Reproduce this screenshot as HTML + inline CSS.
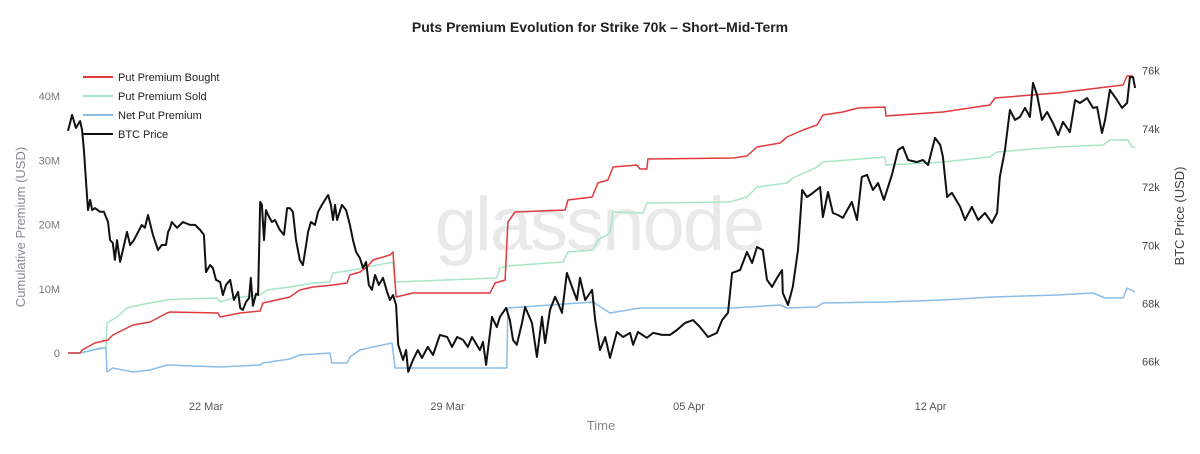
<!DOCTYPE html>
<html><head><meta charset="utf-8">
<style>
html,body{margin:0;padding:0;background:#fff;}
body{width:1200px;height:449px;overflow:hidden;font-family:"Liberation Sans",Arial,sans-serif;}
svg text{font-family:"Liberation Sans",Arial,sans-serif;}
</style></head>
<body>
<svg id="chart" width="1200" height="449" viewBox="0 0 1200 449" xmlns="http://www.w3.org/2000/svg">
  <text x="600" y="32" text-anchor="middle" font-size="14" font-weight="bold" fill="#222">Puts Premium Evolution for Strike 70k – Short–Mid-Term</text>
  <text x="599" y="250" text-anchor="middle" font-size="76" fill="#e9e9e9" letter-spacing="-2">glassnode</text>
  <g id="axes"></g>
  <g id="series"></g>
  <text transform="translate(25,227) rotate(-90)" text-anchor="middle" font-size="13" fill="#8a8a96">Cumulative Premium (USD)</text>
  <text transform="translate(1184,216) rotate(-90)" text-anchor="middle" font-size="13" fill="#444">BTC Price (USD)</text>
  <text x="601" y="430" text-anchor="middle" font-size="13" fill="#888">Time</text>
  <g font-size="11" fill="#222">
    <g><line x1="83" y1="77" x2="113" y2="77" stroke="#e0393e" stroke-width="2"/><text x="118" y="81">Put Premium Bought</text></g>
    <g><line x1="83" y1="96" x2="113" y2="96" stroke="#a6e6c6" stroke-width="2"/><text x="118" y="100">Put Premium Sold</text></g>
    <g><line x1="83" y1="115" x2="113" y2="115" stroke="#8bbde8" stroke-width="2"/><text x="118" y="119">Net Put Premium</text></g>
    <g><line x1="83" y1="134" x2="113" y2="134" stroke="#111" stroke-width="2"/><text x="118" y="138">BTC Price</text></g>
  </g>
</svg>
<script>
// days since 18 Mar
const leftTicks=[0,10,20,30,40];
const leftTickLabels=["0","10M","20M","30M","40M"];
const rightTicks=[66,68,70,72,74,76];
const rightTickLabels=["66k","68k","70k","72k","74k","76k"];
const xTicks=[4,11,18,25];
const xTickLabels=["22 Mar","29 Mar","05 Apr","12 Apr"];

const boughtDays=[0,.35,.41,.78,1.16,1.30,1.88,2.38,2.87,2.96,4.35,4.41,4.99,5.57,5.65,6.43,6.72,7.10,7.68,8.09,8.17,8.46,8.67,8.84,9.33,9.42,9.51,10.00,12.23,12.38,12.67,12.75,12.96,14.41,14.49,15.19,15.36,15.65,15.80,16.49,16.58,16.78,16.81,19.28,19.68,19.97,20.64,20.84,21.30,21.71,21.88,22.46,22.90,23.68,23.71,25.36,26.72,26.87,28.67,30.58,30.70,30.87];
const boughtVals=[0,0,.47,1.56,2.02,2.80,4.36,4.83,6.23,6.39,6.23,5.61,6.23,6.54,7.79,8.72,9.81,10.28,10.59,10.90,12.15,12.62,13.40,14.49,15.26,15.73,8.72,9.35,9.35,10.90,11.37,20.40,21.96,22.27,23.83,24.30,26.48,26.95,28.97,29.28,28.66,28.66,30.22,30.37,30.69,32.09,32.71,33.64,34.74,35.51,37.07,37.54,38.16,38.32,36.92,37.54,38.63,39.72,40.50,41.74,43.15,43.15];

const soldDays=[0,.35,.93,1.10,1.13,1.42,1.71,2.09,2.38,2.87,3.33,4.32,4.41,4.78,5.57,5.77,6.43,7.10,7.59,7.68,8.26,8.67,9.42,9.48,12.43,12.52,12.72,14.35,14.49,15.22,15.36,15.71,15.80,16.67,16.78,19.19,19.68,19.97,20.84,21.01,21.71,21.88,23.68,23.71,25.36,26.72,26.93,28.67,30.00,30.20,30.72,30.84,30.93];
const soldVals=[0,0,.78,.78,4.67,5.61,7.01,7.48,7.79,8.26,8.41,8.57,7.94,8.57,9.03,9.81,10.28,10.90,11.06,12.46,12.93,13.40,14.17,11.06,11.68,13.24,13.55,14.17,15.73,16.04,17.60,18.69,21.96,21.81,23.36,23.52,24.30,25.86,26.48,27.26,28.97,29.75,30.53,29.28,29.75,30.53,31.31,32.09,32.40,33.18,33.18,32.09,32.09];

const netDays=[0,.35,1.01,1.10,1.13,1.30,1.88,2.38,2.87,4.41,5.57,5.65,6.43,6.72,7.59,7.65,8.09,8.17,8.46,8.84,9.39,9.48,12.72,12.75,15.22,15.71,16.58,19.28,20.64,20.84,21.71,21.88,23.68,25.36,26.81,28.67,29.71,30.06,30.58,30.70,30.93];
const netVals=[0,0,.78,.78,-2.96,-2.34,-2.96,-2.65,-1.87,-2.18,-1.87,-1.56,-0.93,-0.31,0,-1.56,-1.56,-0.62,0.47,0.93,1.56,-2.34,-2.34,7.01,7.94,6.23,7.01,7.01,7.48,7.01,7.17,7.79,7.94,8.26,8.72,9.03,9.35,8.57,8.57,10.12,9.50];

const btcDays=[0,.12,.23,.35,.41,.46,.52,.58,.64,.70,.78,.93,1.04,1.16,1.22,1.30,1.36,1.42,1.51,1.59,1.71,1.80,1.91,2.14,2.23,2.32,2.46,2.61,2.72,2.84,2.90,2.96,3.01,3.16,3.33,3.54,3.68,3.83,3.94,4.00,4.12,4.20,4.29,4.41,4.49,4.58,4.70,4.81,4.93,4.99,5.07,5.16,5.25,5.30,5.36,5.45,5.51,5.57,5.62,5.68,5.74,5.80,5.91,6.00,6.14,6.26,6.35,6.43,6.52,6.61,6.72,6.81,6.90,6.96,7.04,7.16,7.25,7.36,7.45,7.54,7.62,7.68,7.74,7.80,7.94,8.06,8.17,8.26,8.35,8.46,8.55,8.64,8.72,8.81,8.90,9.01,9.13,9.25,9.33,9.42,9.51,9.57,9.62,9.71,9.80,9.86,10.00,10.14,10.26,10.43,10.58,10.78,10.99,11.13,11.28,11.45,11.59,11.71,11.94,12.03,12.12,12.29,12.43,12.52,12.70,12.81,12.90,13.01,13.16,13.25,13.45,13.59,13.74,13.83,13.97,14.12,14.20,14.32,14.46,14.61,14.75,14.84,14.99,15.19,15.28,15.42,15.57,15.71,15.91,16.09,16.29,16.38,16.52,16.78,16.96,17.22,17.45,17.65,17.88,18.12,18.32,18.55,18.81,18.96,19.13,19.25,19.48,19.68,19.83,19.97,20.14,20.26,20.41,20.55,20.70,20.72,20.87,21.01,21.16,21.28,21.42,21.59,21.80,21.88,22.03,22.17,22.32,22.46,22.72,22.87,23.01,23.16,23.33,23.48,23.65,23.88,24.06,24.20,24.35,24.61,24.78,24.93,25.13,25.28,25.36,25.48,25.62,25.86,26.00,26.20,26.38,26.58,26.78,26.93,27.01,27.16,27.30,27.45,27.59,27.74,27.88,27.97,28.09,28.23,28.38,28.55,28.70,28.84,29.04,29.19,29.33,29.54,29.71,29.83,29.97,30.06,30.20,30.41,30.55,30.70,30.78,30.87,30.93];
const btcPrices=[73.93,74.48,74.03,74.27,73.96,73.28,72.25,71.21,71.56,71.21,71.28,71.15,71.15,70.80,70.18,70.08,69.50,70.18,69.43,69.84,70.46,70.01,70.18,70.70,70.60,71.04,70.36,69.84,70.01,70.01,70.46,70.60,70.80,70.60,70.80,70.70,70.70,70.53,70.36,69.08,69.32,69.22,68.81,68.74,68.29,68.64,68.81,68.12,68.40,67.85,67.78,68.05,68.19,68.88,67.92,68.33,68.30,71.49,71.39,70.18,71.21,71.04,70.80,70.87,70.53,70.36,71.28,71.28,71.15,70.18,69.50,69.32,70.01,70.46,70.80,70.70,71.15,71.39,71.56,71.73,71.39,70.87,71.39,70.87,71.39,71.21,70.70,70.18,69.77,69.56,69.22,69.43,68.64,68.47,68.98,68.64,68.88,68.40,68.12,68.29,67.95,66.58,66.40,66.06,66.40,65.65,66.06,66.40,66.13,66.51,66.23,66.92,66.85,66.51,66.85,66.75,66.51,66.85,66.40,66.68,65.89,67.54,67.19,67.54,67.85,67.43,66.75,66.58,67.33,67.88,67.33,66.16,67.54,66.64,67.78,68.23,68.02,67.68,69.05,68.57,68.12,68.88,68.12,68.47,67.43,66.40,66.85,66.13,67.02,66.85,66.99,66.58,67.02,66.82,66.99,66.92,66.92,67.09,67.33,67.43,67.19,66.85,66.99,67.43,67.68,69.05,69.15,69.77,69.39,69.94,69.84,68.81,68.57,68.88,69.15,68.36,67.95,68.57,69.84,71.90,71.66,71.80,72.00,70.97,71.83,71.11,71.04,70.94,71.49,70.87,72.35,72.42,71.90,72.14,71.56,72.42,73.28,73.38,72.93,72.86,72.93,72.76,73.69,73.45,73.04,71.66,71.80,71.32,70.87,71.32,70.87,71.11,70.77,71.11,72.35,73.28,74.65,74.31,74.41,74.72,74.41,75.58,75.17,74.31,74.58,74.20,73.79,74.24,73.89,74.99,74.89,75.06,74.72,74.75,73.86,74.31,75.34,74.99,74.72,74.89,75.78,75.78,75.41];

const NS="http://www.w3.org/2000/svg";
function xScale(d){return 68+d*34.5;}
function yLeft(v){return 353-v*6.42;}
function yRight(p){return 70.7+(76-p)*29.1;}

const axes=document.getElementById('axes');
const series=document.getElementById('series');
function mkText(parent,x,y,txt,anchor,size,fill){
  const t=document.createElementNS(NS,'text');
  t.setAttribute('x',x);t.setAttribute('y',y);
  t.setAttribute('text-anchor',anchor);t.setAttribute('font-size',size);t.setAttribute('fill',fill);
  t.textContent=txt;parent.appendChild(t);return t;
}
leftTicks.forEach((v,i)=>{
  const t=mkText(axes,60,yLeft(v)+4,leftTickLabels[i],'end',11,'#777');
  
  
});
rightTicks.forEach((v,i)=>{
  const t=mkText(axes,1142,yRight(v)+4,rightTickLabels[i],'start',11,'#444');
  
  
});
xTicks.forEach((d,i)=>{
  const t=mkText(axes,xScale(d),410,xTickLabels[i],'middle',11,'#555');
  
  
});

function drawLine(days,vals,yf,color,w,name){
  const p=document.createElementNS(NS,'path');
  let d='';
  for(let i=0;i<days.length;i++){d+=(i?'L':'M')+xScale(days[i]).toFixed(1)+','+yf(vals[i]).toFixed(1);}
  p.setAttribute('d',d);p.setAttribute('fill','none');p.setAttribute('stroke',color);
  p.setAttribute('stroke-width',w);p.setAttribute('stroke-linejoin','round');
  
  
  series.appendChild(p);
}
drawLine(soldDays,soldVals,yLeft,'#a6e6c6',1.5,'put-premium-sold-line');
drawLine(netDays,netVals,yLeft,'#8bbde8',1.5,'net-put-premium-line');
drawLine(boughtDays,boughtVals,yLeft,'#e0393e',1.5,'put-premium-bought-line');
drawLine(btcDays,btcPrices,yRight,'#111',2,'btc-price-line');
</script>
</body></html>
